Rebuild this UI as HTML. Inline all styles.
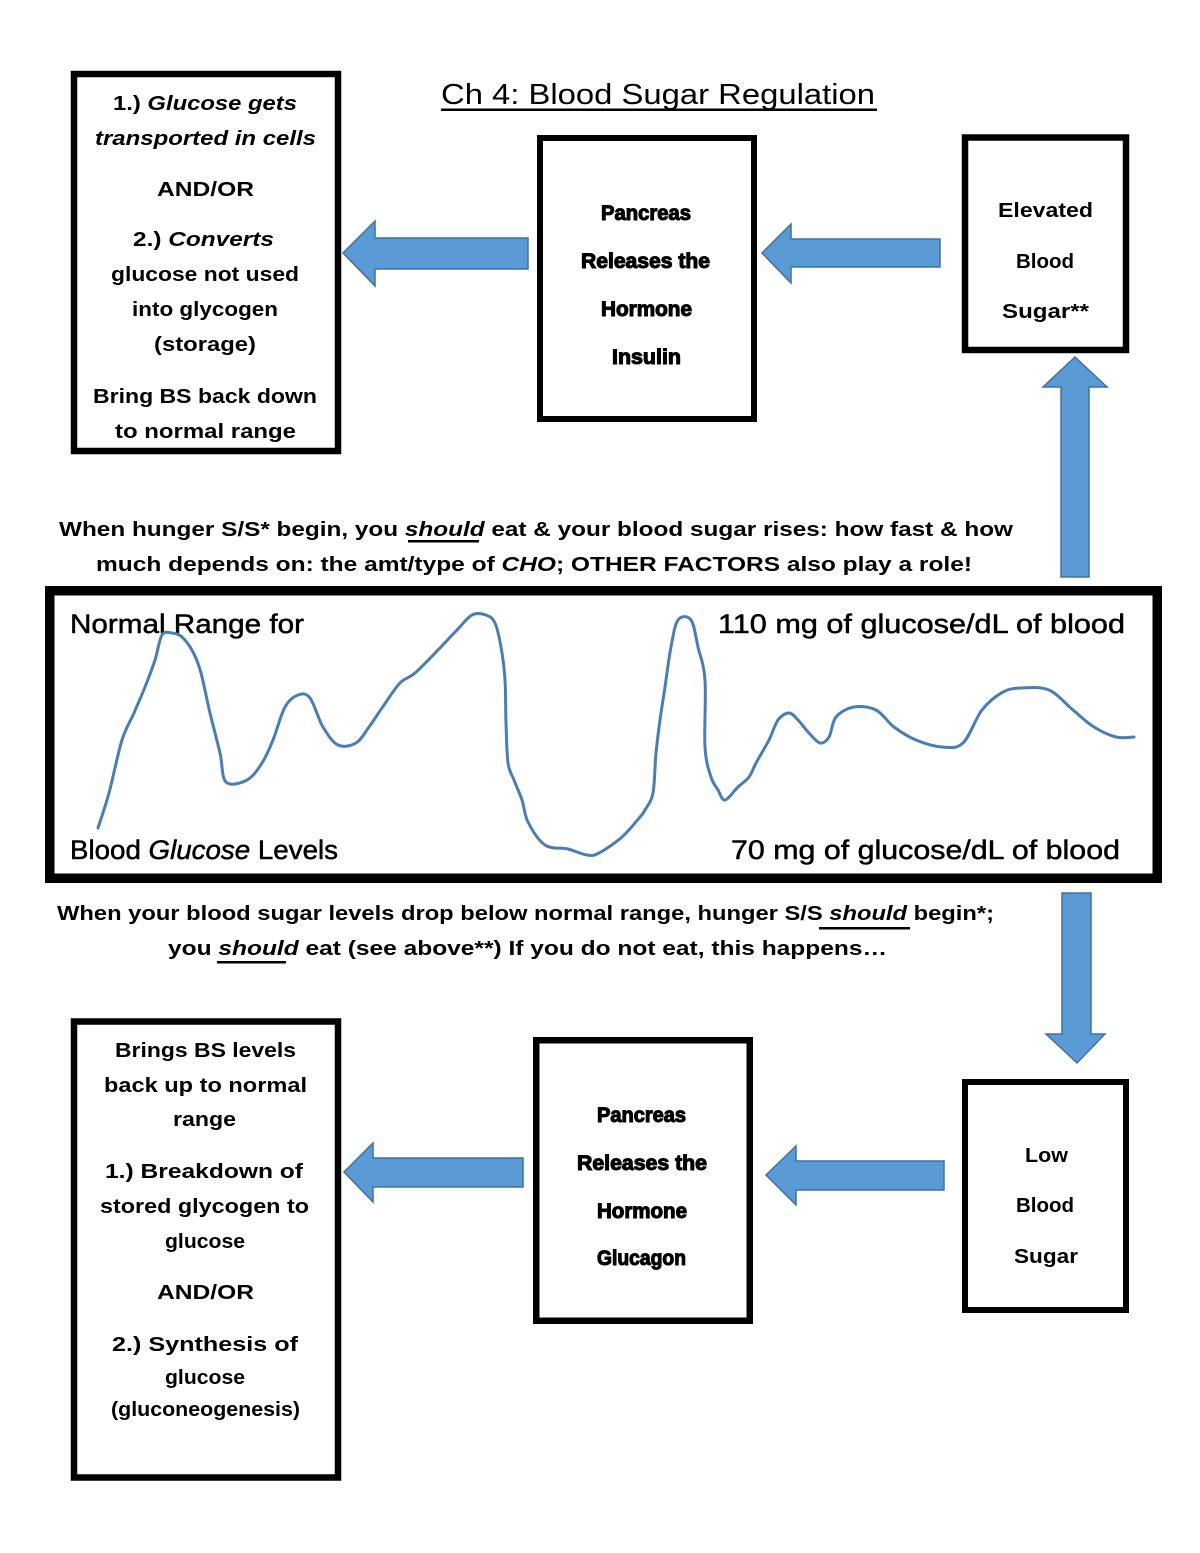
<!DOCTYPE html>
<html><head><meta charset="utf-8"><style>
html,body{margin:0;padding:0;background:#fff;}
svg{display:block;}
text{font-family:"Liberation Sans",sans-serif;fill:#000;}
.b{font-weight:bold;font-size:20px;}
.m{font-weight:bold;font-size:20px;}
.p{font-weight:bold;font-size:21px;stroke:#000;stroke-width:1.1px;}
.c{font-size:27px;stroke:#000;stroke-width:0.5px;}
</style></head><body>
<svg width="1200" height="1553" viewBox="0 0 1200 1553" xmlns="http://www.w3.org/2000/svg">
<rect width="1200" height="1553" fill="#fff"/>

<!-- Title -->
<text x="441" y="104" font-size="29" textLength="434" lengthAdjust="spacingAndGlyphs">Ch 4: Blood Sugar Regulation</text>
<rect x="441" y="108.5" width="436" height="2.5" fill="#000"/>

<!-- Boxes -->
<g fill="none" stroke="#000">
<rect x="74" y="74" width="264" height="377" stroke-width="6.5"/>
<rect x="540" y="138" width="214" height="281" stroke-width="6"/>
<rect x="965" y="137.5" width="161" height="212.5" stroke-width="6.5"/>
<rect x="49.75" y="590.75" width="1107.5" height="287.5" stroke-width="9.5"/>
<rect x="74" y="1021.5" width="264" height="456" stroke-width="6.5"/>
<rect x="536.25" y="1040.25" width="213.5" height="280.5" stroke-width="6.5"/>
<rect x="965" y="1082" width="161" height="228" stroke-width="6"/>
</g>

<!-- Arrows -->
<g fill="#5b9bd5" stroke="#41719c" stroke-width="1.5" stroke-linejoin="miter">
<polygon points="343,253 375,221 375,238 528,238 528,269 375,269 375,286"/>
<polygon points="762,253 791,224 791,239 940,239 940,267 791,267 791,283"/>
<polygon points="344,1172 373,1143 373,1158 523,1158 523,1187 373,1187 373,1202"/>
<polygon points="766,1175 796,1146 796,1161 944,1161 944,1190 796,1190 796,1205"/>
<polygon points="1075,357 1107,387 1089,387 1089,577 1061,577 1061,387 1043,387"/>
<polygon points="1062,893 1091,893 1091,1034 1105,1034 1077,1063 1046,1034 1062,1034"/>
</g>

<!-- Top-left box text -->
<text class="b" x="113" y="110" textLength="184" lengthAdjust="spacingAndGlyphs">1.) <tspan font-style="italic">Glucose gets</tspan></text>
<text class="b" x="95" y="145" textLength="221" lengthAdjust="spacingAndGlyphs" font-style="italic">transported in cells</text>
<text class="b" x="157" y="196" textLength="97" lengthAdjust="spacingAndGlyphs" font-weight="normal">AND/OR</text>
<text class="b" x="133" y="246" textLength="141" lengthAdjust="spacingAndGlyphs">2.) <tspan font-style="italic">Converts</tspan></text>
<text class="b" x="111" y="281" textLength="188" lengthAdjust="spacingAndGlyphs">glucose not used</text>
<text class="b" x="132" y="316" textLength="146" lengthAdjust="spacingAndGlyphs">into glycogen</text>
<text class="b" x="154" y="351" textLength="102" lengthAdjust="spacingAndGlyphs">(storage)</text>
<text class="b" x="93" y="403" textLength="224" lengthAdjust="spacingAndGlyphs">Bring BS back down</text>
<text class="b" x="115" y="438" textLength="181" lengthAdjust="spacingAndGlyphs">to normal range</text>

<!-- Top pancreas text -->
<text class="p" x="601" y="220" textLength="90" lengthAdjust="spacingAndGlyphs">Pancreas</text>
<text class="p" x="581" y="268" textLength="129" lengthAdjust="spacingAndGlyphs">Releases the</text>
<text class="p" x="601" y="316" textLength="91" lengthAdjust="spacingAndGlyphs">Hormone</text>
<text class="p" x="612" y="364" textLength="69" lengthAdjust="spacingAndGlyphs">Insulin</text>

<!-- Elevated box text -->
<text class="b" x="998" y="217" textLength="95" lengthAdjust="spacingAndGlyphs">Elevated</text>
<text class="b" x="1016" y="268" textLength="58" lengthAdjust="spacingAndGlyphs">Blood</text>
<text class="b" x="1002" y="318" textLength="87" lengthAdjust="spacingAndGlyphs">Sugar**</text>

<!-- Middle text above chart -->
<text class="m" x="59" y="536" textLength="954" lengthAdjust="spacingAndGlyphs">When hunger S/S* begin, you <tspan font-style="italic">should</tspan> eat &amp; your blood sugar rises: how fast &amp; how</text>
<rect x="408" y="540" width="71" height="2.5" fill="#000"/>
<text class="m" x="96" y="571" textLength="876" lengthAdjust="spacingAndGlyphs">much depends on: the amt/type of <tspan font-style="italic">CHO</tspan>; OTHER FACTORS also play a role!</text>

<!-- Chart labels -->
<text class="c" x="70" y="633" textLength="234" lengthAdjust="spacingAndGlyphs">Normal Range for</text>
<text class="c" x="70" y="859" textLength="268" lengthAdjust="spacingAndGlyphs">Blood <tspan font-style="italic">Glucose</tspan> Levels</text>
<text class="c" x="718" y="633" textLength="407" lengthAdjust="spacingAndGlyphs">110 mg of glucose/dL of blood</text>
<text class="c" x="731" y="859" textLength="389" lengthAdjust="spacingAndGlyphs">70 mg of glucose/dL of blood</text>

<!-- Curve -->
<polyline id="crv" fill="none" stroke="#4a7db4" stroke-width="3" stroke-linejoin="round" stroke-linecap="round" points="
98,828 109,793 122,740 134,713 145,687 155,660 162,635 172,633 182,637 193,652 201,673 210,713 220,753 226,782
247,780 262,763 273,740 285,707 298,695 310,698 323,727 338,745 356,743 369,727 384,705 400,683 415,673 438,650
457,630 472,615 486,615 495,623 501,647 505,680 506,723 508,763 514,780 522,800 528,822 545,845 568,849 587,855
599,853 622,837 640,817 645,810 653,793 656,753 660,720 665,687 671,647 678,620 691,620 698,647 705,680 705,747
711,777 718,790 725,800 738,787 749,777 756,763 769,740 778,720 789,713 798,720 809,733 820,743 829,737 836,717
854,707 876,710 894,727 916,740 942,747 963,743 982,710 1003,692 1022,688 1049,690 1073,710 1094,727 1116,737 1134,737"/>
<path id="crvs" fill="none" stroke="#4a7db4" stroke-width="3" stroke-linejoin="round" stroke-linecap="round" d=""/>

<!-- Text below chart -->
<text class="m" x="57" y="920" textLength="937" lengthAdjust="spacingAndGlyphs">When your blood sugar levels drop below normal range, hunger S/S <tspan font-style="italic">should</tspan> begin*;</text>
<rect x="819" y="927" width="91" height="2.5" fill="#000"/>
<text class="m" x="168" y="955" textLength="719" lengthAdjust="spacingAndGlyphs">you <tspan font-style="italic">should</tspan> eat (see above**) If you do not eat, this happens…</text>
<rect x="217" y="961" width="69" height="2.5" fill="#000"/>

<!-- Bottom-left box text -->
<text class="b" x="115" y="1057" textLength="181" lengthAdjust="spacingAndGlyphs">Brings BS levels</text>
<text class="b" x="104" y="1092" textLength="203" lengthAdjust="spacingAndGlyphs">back up to normal</text>
<text class="b" x="173" y="1126" textLength="63" lengthAdjust="spacingAndGlyphs">range</text>
<text class="b" x="105" y="1178" textLength="198" lengthAdjust="spacingAndGlyphs">1.) Breakdown of</text>
<text class="b" x="100" y="1213" textLength="209" lengthAdjust="spacingAndGlyphs">stored glycogen to</text>
<text class="b" x="165" y="1248" textLength="80" lengthAdjust="spacingAndGlyphs">glucose</text>
<text class="b" x="157" y="1299" textLength="97" lengthAdjust="spacingAndGlyphs" font-weight="normal">AND/OR</text>
<text class="b" x="112" y="1351" textLength="186" lengthAdjust="spacingAndGlyphs">2.) Synthesis of</text>
<text class="b" x="165" y="1384" textLength="80" lengthAdjust="spacingAndGlyphs">glucose</text>
<text class="b" x="111" y="1416" textLength="189" lengthAdjust="spacingAndGlyphs">(gluconeogenesis)</text>

<!-- Bottom pancreas text -->
<text class="p" x="597" y="1122" textLength="89" lengthAdjust="spacingAndGlyphs">Pancreas</text>
<text class="p" x="577" y="1170" textLength="130" lengthAdjust="spacingAndGlyphs">Releases the</text>
<text class="p" x="597" y="1218" textLength="90" lengthAdjust="spacingAndGlyphs">Hormone</text>
<text class="p" x="597" y="1265" textLength="89" lengthAdjust="spacingAndGlyphs">Glucagon</text>

<!-- Low box text -->
<text class="b" x="1025" y="1162" textLength="43" lengthAdjust="spacingAndGlyphs">Low</text>
<text class="b" x="1016" y="1212" textLength="58" lengthAdjust="spacingAndGlyphs">Blood</text>
<text class="b" x="1014" y="1263" textLength="64" lengthAdjust="spacingAndGlyphs">Sugar</text>
</svg>
<script>
(function(){
  var pl=document.getElementById('crv');
  var nums=pl.getAttribute('points').trim().split(/[\s,]+/).map(Number);
  var p=[];for(var i=0;i<nums.length;i+=2)p.push([nums[i],nums[i+1]]);
  var d='M'+p[0][0]+','+p[0][1];
  for(var i=0;i<p.length-1;i++){
    var p0=p[i-1]||p[i],p1=p[i],p2=p[i+1],p3=p[i+2]||p2;
    var t=0.5/3;
    var c1x=p1[0]+(p2[0]-p0[0])*t,c1y=p1[1]+(p2[1]-p0[1])*t;
    var c2x=p2[0]-(p3[0]-p1[0])*t,c2y=p2[1]-(p3[1]-p1[1])*t;
    d+=' C'+c1x.toFixed(1)+','+c1y.toFixed(1)+' '+c2x.toFixed(1)+','+c2y.toFixed(1)+' '+p2[0]+','+p2[1];
  }
  document.getElementById('crvs').setAttribute('d',d);
  pl.setAttribute('stroke','none');
})();
</script>
</body></html>
